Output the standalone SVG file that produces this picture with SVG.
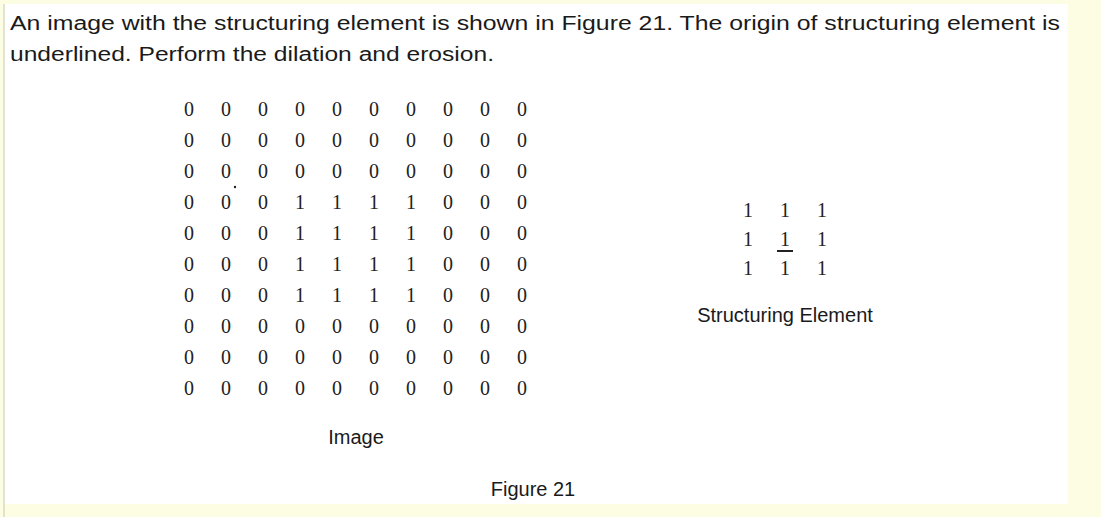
<svg xmlns="http://www.w3.org/2000/svg" width="1101" height="517" viewBox="0 0 1101 517">
<style>
.t{font-family:"Liberation Sans",Arial,sans-serif;font-size:20px;fill:#1a1a1a}
.m{font-family:"Liberation Serif","Times New Roman",serif;font-size:20px;fill:#222;text-anchor:middle}
</style>
<rect width="1101" height="517" fill="#fdfde3"/>
<rect x="4" y="4" width="1064" height="500" fill="#ffffff"/>
<line x1="4" y1="4" x2="4" y2="517" stroke="#c8c8b0" stroke-width="1"/>
<g id="question">
<text class="t" x="10" y="30" textLength="1050" lengthAdjust="spacingAndGlyphs">An image with the structuring element is shown in Figure 21. The origin of structuring element is</text>
<text class="t" x="10" y="61" textLength="484" lengthAdjust="spacingAndGlyphs">underlined. Perform the dilation and erosion.</text>
</g>
<g id="image" class="m">
<text y="116"><tspan x="189">0</tspan><tspan x="226">0</tspan><tspan x="263">0</tspan><tspan x="300">0</tspan><tspan x="337">0</tspan><tspan x="374">0</tspan><tspan x="411">0</tspan><tspan x="448">0</tspan><tspan x="485">0</tspan><tspan x="522">0</tspan></text>
<text y="147"><tspan x="189">0</tspan><tspan x="226">0</tspan><tspan x="263">0</tspan><tspan x="300">0</tspan><tspan x="337">0</tspan><tspan x="374">0</tspan><tspan x="411">0</tspan><tspan x="448">0</tspan><tspan x="485">0</tspan><tspan x="522">0</tspan></text>
<text y="178"><tspan x="189">0</tspan><tspan x="226">0</tspan><tspan x="263">0</tspan><tspan x="300">0</tspan><tspan x="337">0</tspan><tspan x="374">0</tspan><tspan x="411">0</tspan><tspan x="448">0</tspan><tspan x="485">0</tspan><tspan x="522">0</tspan></text>
<text y="209"><tspan x="189">0</tspan><tspan x="226">0</tspan><tspan x="263">0</tspan><tspan x="300">1</tspan><tspan x="337">1</tspan><tspan x="374">1</tspan><tspan x="411">1</tspan><tspan x="448">0</tspan><tspan x="485">0</tspan><tspan x="522">0</tspan></text>
<text y="240"><tspan x="189">0</tspan><tspan x="226">0</tspan><tspan x="263">0</tspan><tspan x="300">1</tspan><tspan x="337">1</tspan><tspan x="374">1</tspan><tspan x="411">1</tspan><tspan x="448">0</tspan><tspan x="485">0</tspan><tspan x="522">0</tspan></text>
<text y="271"><tspan x="189">0</tspan><tspan x="226">0</tspan><tspan x="263">0</tspan><tspan x="300">1</tspan><tspan x="337">1</tspan><tspan x="374">1</tspan><tspan x="411">1</tspan><tspan x="448">0</tspan><tspan x="485">0</tspan><tspan x="522">0</tspan></text>
<text y="302"><tspan x="189">0</tspan><tspan x="226">0</tspan><tspan x="263">0</tspan><tspan x="300">1</tspan><tspan x="337">1</tspan><tspan x="374">1</tspan><tspan x="411">1</tspan><tspan x="448">0</tspan><tspan x="485">0</tspan><tspan x="522">0</tspan></text>
<text y="333"><tspan x="189">0</tspan><tspan x="226">0</tspan><tspan x="263">0</tspan><tspan x="300">0</tspan><tspan x="337">0</tspan><tspan x="374">0</tspan><tspan x="411">0</tspan><tspan x="448">0</tspan><tspan x="485">0</tspan><tspan x="522">0</tspan></text>
<text y="364"><tspan x="189">0</tspan><tspan x="226">0</tspan><tspan x="263">0</tspan><tspan x="300">0</tspan><tspan x="337">0</tspan><tspan x="374">0</tspan><tspan x="411">0</tspan><tspan x="448">0</tspan><tspan x="485">0</tspan><tspan x="522">0</tspan></text>
<text y="395"><tspan x="189">0</tspan><tspan x="226">0</tspan><tspan x="263">0</tspan><tspan x="300">0</tspan><tspan x="337">0</tspan><tspan x="374">0</tspan><tspan x="411">0</tspan><tspan x="448">0</tspan><tspan x="485">0</tspan><tspan x="522">0</tspan></text>
<circle cx="235" cy="187" r="1.2" fill="#222"/>
</g>
<g id="image-label"><text class="t" x="356" y="444" text-anchor="middle">Image</text></g>
<g id="structuring-element" class="m">
<text y="217"><tspan x="748">1</tspan><tspan x="785">1</tspan><tspan x="822">1</tspan></text>
<text y="246"><tspan x="748">1</tspan><tspan x="785">1</tspan><tspan x="822">1</tspan></text>
<text y="275"><tspan x="748">1</tspan><tspan x="785">1</tspan><tspan x="822">1</tspan></text>
<line x1="777" y1="251" x2="793" y2="251" stroke="#222" stroke-width="2"/>
</g>
<g id="se-label"><text class="t" x="785" y="322" text-anchor="middle">Structuring Element</text></g>
<g id="caption"><text class="t" x="533" y="496" text-anchor="middle">Figure 21</text></g>
<g id="connectors"/>
</svg>
